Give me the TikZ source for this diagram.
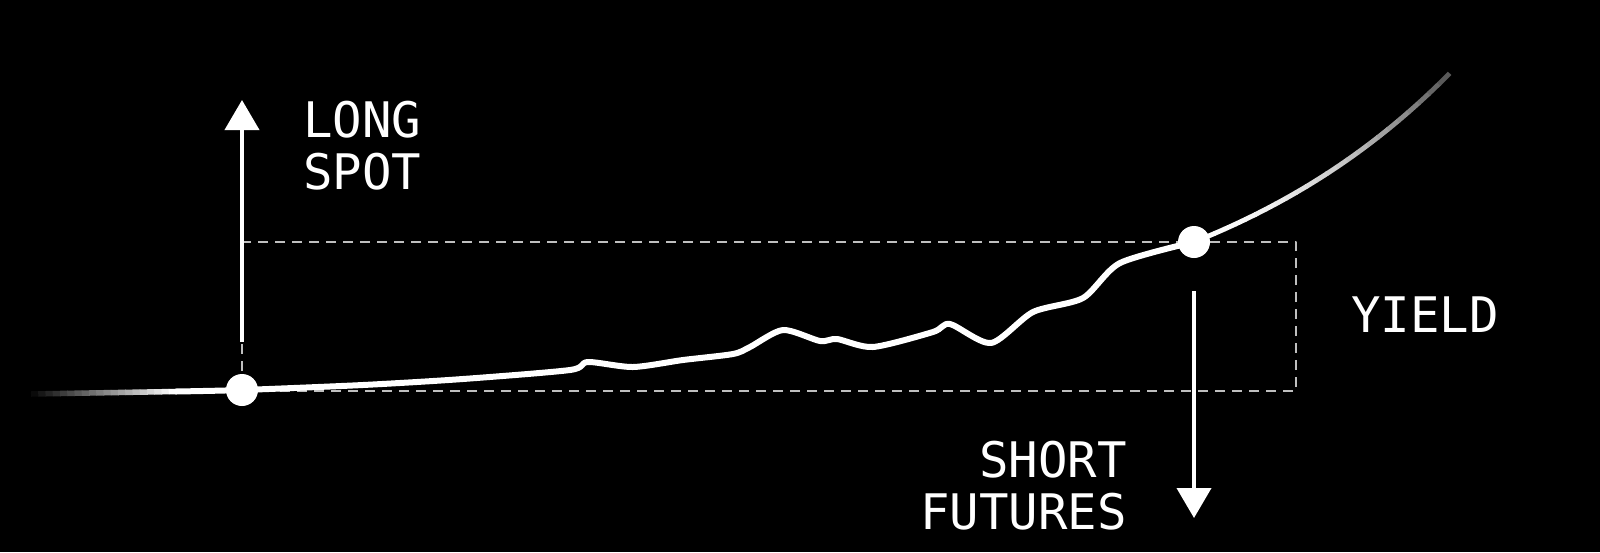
\documentclass[tikz,border=0pt]{standalone}
\usepackage{fontspec}
\setmonofont{DejaVu Sans Mono}
\usetikzlibrary{arrows.meta}
\tikzset{
	bigdot/.style={circle, fill=white, inner sep=0pt, minimum size=32pt},
	yieldbox/.style={draw=white!75!black, line width=1.5pt, dash pattern=on 10pt off 7pt},
	price/.style={white, line width=6pt, line cap=round, line join=round},
	trade/.style={white, line width=4pt, -{Triangle[width=34pt,length=30pt]}},
	tag/.style={text=white, inner sep=0pt, font=\ttfamily\fontsize{49}{52}\selectfont}
}
\begin{document}
\begin{tikzpicture}[x=1pt, y=-1pt, line join=round]
	\fill[black] (0,0) rectangle (1600,552);
	\useasboundingbox (0,0) rectangle (1600,552);
	\path (242,390) coordinate (S)
	(1194,242) coordinate (F)
	(1296,391) coordinate (Y)
	(242,342) coordinate (ls) (242,100) coordinate (lt)
	(1194,291) coordinate (ss) (1194,518) coordinate (st);
	% yield band
	\draw[yieldbox] (242,242) rectangle (Y);
	% faded left tail
	\foreach \i in {0,...,19}{
		\pgfmathsetmacro\xa{31+\i*7.25}
		\pgfmathsetmacro\xb{31+(\i+1)*7.25+0.6}
		\pgfmathsetmacro\ya{394-\i*0.125}
		\pgfmathsetmacro\yb{394-(\i+1)*0.125}
		\pgfmathtruncatemacro\sh{4+96*\i/19}
		\draw[white!\sh!black, line width=5.5pt] (\xa,\ya) -- (\xb,\yb);
	}
	% price path
	\draw[price] plot[smooth, tension=0.45] coordinates {(176,391.5) (S) (363,385) (463,379) (570,370) (588,362) (633,367) (683,360) (733,354) (750,347) (783,330) (820,341) (837,339) (873,347) (933,332) (950,324) (991,343) (1033,312) (1083,298) (1120,263) (F)};
	% faded right tail
	\foreach \i in {0,...,24}{
		\pgfmathsetmacro\ua{\i*10.2}
		\pgfmathsetmacro\ub{(\i+1)*10.2+0.6}
		\pgfmathtruncatemacro\sh{100-70*(\i/25)^2}
		\draw[white!\sh!black, line width=4.8pt] plot[domain=\ua:\ub, samples=4] ({1194+\x},{242-110*(exp(\x/275)-1)});
	}
	\draw[trade] (ls) -- (lt);
	\draw[trade] (ss) -- (st);
	\node[bigdot] (spot) at (S) {};
	\node[bigdot] (fut) at (F) {};
	\node[tag, anchor=north west, align=left] (long) at (303,101) {LONG\\SPOT};
	\node[tag, anchor=north east, align=right] (short) at (1127,441) {SHORT\\FUTURES};
	\node[tag, anchor=north west] (yield) at (1351,297) {YIELD};
\end{tikzpicture}
\end{document}
